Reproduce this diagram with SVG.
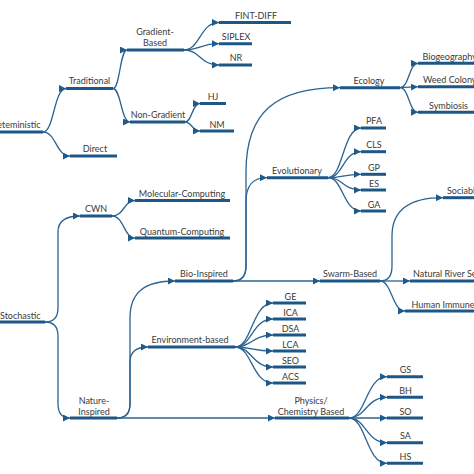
<svg xmlns="http://www.w3.org/2000/svg" width="474" height="474" viewBox="0 0 474 474">
<defs>
<marker id="arr" markerUnits="userSpaceOnUse" markerWidth="8" markerHeight="7" refX="7" refY="3.5" orient="auto">
<path d="M0,0 L7,3.5 L0,7 z" fill="#1f5a8a"/>
</marker>
<style>
.c{fill:none;stroke:#2b6391;stroke-width:1.3;marker-end:url(#arr)}
.s{fill:none;stroke:#2b6391;stroke-width:1.3}
.u{stroke:#1d5788;stroke-width:3;fill:none}
text{font-family:Lato,"Liberation Sans",sans-serif;font-size:9px;fill:#3a3a3a;text-anchor:middle}
.st{text-anchor:start}
.en{text-anchor:end}
</style>
</defs>
<rect width="474" height="474" fill="#ffffff"/>
<g id="connectors">
<path class="c" d="M43,132 C54,132 54,88.5 66,88.5"/>
<path class="c" d="M43,132 C56,132 56,156 70,156"/>
<path class="c" d="M113,88.5 C120,88.5 120,50 127,50"/>
<path class="c" d="M113,88.5 C121,88.5 121,122 130,122"/>
<path class="c" d="M184,50 C200,50 200,22.5 219,22.5"/>
<path class="c" d="M184,50 C200,50 200,43.7 219,43.7"/>
<path class="c" d="M184,50 C200,50 200,65 219,65"/>
<path class="c" d="M185,122 C192,122 192,103.5 200,103.5"/>
<path class="c" d="M185,122 C192,122 192,131 200,131"/>
<path class="c" d="M45,322 Q58,322 58,308 L58,232 Q58,216 80,216"/>
<path class="c" d="M45,322 Q58,322 58,336 L58,404 Q58,418 70,418"/>
<path class="c" d="M112,216 C124,216 124,200.5 135,200.5"/>
<path class="c" d="M112,216 C124,216 124,238 135,238"/>
<path class="c" d="M117,418 Q130,418 130,404 L130,362 Q130,347 148,347"/>
<path class="c" d="M117,418 Q130,418 130,404 L130,318 C130,292 145,281 175,281"/>
<path class="c" d="M117,418 L275,418"/>
<path class="c" d="M233,281 Q246,281 246,266 L246,172 C246,112 276,87.7 340,87.7"/>
<path class="c" d="M233,281 Q246,281 246,266 L246,202 C246,186 252,177.7 267,177.7"/>
<path class="c" d="M233,281 L320,281"/>
<path class="c" d="M400,87.7 C409,87.7 409,63.3 418,63.3"/>
<path class="c" d="M400,87.7 L418,86.7"/>
<path class="c" d="M400,87.7 C409,87.7 409,112.3 418,112.3"/>
<path class="c" d="M328,177.7 C343,177.7 343,128 361,128"/>
<path class="c" d="M328,177.7 C343,177.7 343,151.7 361,151.7"/>
<path class="c" d="M328,177.7 C343,177.7 343,174.3 361,174.3"/>
<path class="c" d="M328,177.7 C343,177.7 343,190 361,190"/>
<path class="c" d="M328,177.7 C343,177.7 343,211 361,211"/>
<path class="c" d="M235,347 C252,347 252,303 273,303"/>
<path class="c" d="M235,347 C252,347 252,319 273,319"/>
<path class="c" d="M235,347 C252,347 252,335 273,335"/>
<path class="c" d="M235,347 C252,347 252,351 273,351"/>
<path class="c" d="M235,347 C252,347 252,367 273,367"/>
<path class="c" d="M235,347 C252,347 252,383 273,383"/>
<path class="c" d="M349,418 C366,418 366,376.7 387,376.7"/>
<path class="c" d="M349,418 C366,418 366,397.3 387,397.3"/>
<path class="c" d="M349,418 L387,418"/>
<path class="c" d="M349,418 C366,418 366,442.7 387,442.7"/>
<path class="c" d="M349,418 C366,418 366,463.3 387,463.3"/>
<path class="c" d="M380,281 Q392,281 392,266 L392,236 C392,210 410,197.7 443,197.7"/>
<path class="c" d="M380,281 L410,281"/>
<path class="c" d="M380,281 C392,281 392,311 405,311"/>
</g>
<g id="n-deteministic"><line class="u" x1="0" y1="132" x2="43" y2="132"/><text class="en" x="40.5" y="128">Deteministic</text></g>
<g id="n-traditional"><line class="u" x1="66" y1="88.5" x2="113" y2="88.5"/><text x="89.5" y="84">Traditional</text></g>
<g id="n-gradient"><line class="u" x1="127" y1="50" x2="184" y2="50"/><text x="155" y="34.5">Gradient-</text><text x="155" y="45.5">Based</text></g>
<g id="n-nongradient"><line class="u" x1="130" y1="122" x2="185" y2="122"/><text x="158" y="118">Non-Gradient</text></g>
<g id="n-fintdiff"><line class="u" x1="219" y1="22.5" x2="291" y2="22.5"/><text x="256" y="18.5">FINT-DIFF</text></g>
<g id="n-siplex"><line class="u" x1="219" y1="43.7" x2="252" y2="43.7"/><text x="236" y="40">SIPLEX</text></g>
<g id="n-nr"><line class="u" x1="219" y1="65" x2="252" y2="65"/><text x="236" y="61">NR</text></g>
<g id="n-hj"><line class="u" x1="200" y1="103.5" x2="226" y2="103.5"/><text x="213" y="100">HJ</text></g>
<g id="n-nm"><line class="u" x1="200" y1="131" x2="234" y2="131"/><text x="217" y="127.5">NM</text></g>
<g id="n-direct"><line class="u" x1="70" y1="156" x2="117" y2="156"/><text x="95" y="152">Direct</text></g>
<g id="n-stochastic"><line class="u" x1="0" y1="322" x2="45" y2="322"/><text class="en" x="40.5" y="318.5">Stochastic</text></g>
<g id="n-cwn"><line class="u" x1="80" y1="216" x2="112" y2="216"/><text x="96" y="212">CWN</text></g>
<g id="n-molecular"><line class="u" x1="135" y1="200.5" x2="230" y2="200.5"/><text x="182" y="197">Molecular-Computing</text></g>
<g id="n-quantum"><line class="u" x1="135" y1="238" x2="230" y2="238"/><text x="182" y="234.5">Quantum-Computing</text></g>
<g id="n-nature"><line class="u" x1="70" y1="418" x2="117" y2="418"/><text x="94" y="404">Nature-</text><text x="94" y="415">Inspired</text></g>
<g id="n-bio"><line class="u" x1="175" y1="281" x2="233" y2="281"/><text x="204" y="277">Bio-Inspired</text></g>
<g id="n-env"><line class="u" x1="148" y1="347" x2="235" y2="347"/><text x="190" y="342.5">Environment-based</text></g>
<g id="n-physics"><line class="u" x1="275" y1="418" x2="349" y2="418"/><text x="311" y="403.5">Physics/</text><text x="311" y="415">Chemistry Based</text></g>
<g id="n-ge"><line class="u" x1="273" y1="303" x2="306" y2="303"/><text x="290.5" y="299.5">GE</text></g>
<g id="n-ica"><line class="u" x1="273" y1="319" x2="306" y2="319"/><text x="290.5" y="315.5">ICA</text></g>
<g id="n-dsa"><line class="u" x1="273" y1="335" x2="306" y2="335"/><text x="290.5" y="331.5">DSA</text></g>
<g id="n-lca"><line class="u" x1="273" y1="351" x2="306" y2="351"/><text x="290.5" y="347.5">LCA</text></g>
<g id="n-seo"><line class="u" x1="273" y1="367" x2="306" y2="367"/><text x="290.5" y="363.5">SEO</text></g>
<g id="n-acs"><line class="u" x1="273" y1="383" x2="306" y2="383"/><text x="290.5" y="379.5">ACS</text></g>
<g id="n-gs"><line class="u" x1="387" y1="376.7" x2="423" y2="376.7"/><text x="405.5" y="373">GS</text></g>
<g id="n-bh"><line class="u" x1="387" y1="397.3" x2="423" y2="397.3"/><text x="405.5" y="393.5">BH</text></g>
<g id="n-so"><line class="u" x1="387" y1="418" x2="423" y2="418"/><text x="405.5" y="414.5">SO</text></g>
<g id="n-sa"><line class="u" x1="387" y1="442.7" x2="423" y2="442.7"/><text x="405.5" y="439">SA</text></g>
<g id="n-hs"><line class="u" x1="387" y1="463.3" x2="423" y2="463.3"/><text x="405.5" y="459.5">HS</text></g>
<g id="n-ecology"><line class="u" x1="340" y1="87.7" x2="400" y2="87.7"/><text x="369" y="84">Ecology</text></g>
<g id="n-biogeo"><line class="u" x1="418" y1="63.3" x2="474" y2="63.3"/><text class="st" x="422.5" y="59.5">Biogeography</text></g>
<g id="n-weed"><line class="u" x1="418" y1="86.7" x2="474" y2="86.7"/><text class="st" x="423" y="83">Weed Colony</text></g>
<g id="n-symbiosis"><line class="u" x1="418" y1="112.3" x2="474" y2="112.3"/><text class="st" x="429" y="108.5">Symbiosis</text></g>
<g id="n-evolutionary"><line class="u" x1="267" y1="177.7" x2="328" y2="177.7"/><text x="297" y="174">Evolutionary</text></g>
<g id="n-pfa"><line class="u" x1="361" y1="128" x2="386" y2="128"/><text x="374" y="124">PFA</text></g>
<g id="n-cls"><line class="u" x1="361" y1="151.7" x2="386" y2="151.7"/><text x="374" y="147.7">CLS</text></g>
<g id="n-gp"><line class="u" x1="361" y1="174.3" x2="386" y2="174.3"/><text x="374" y="171">GP</text></g>
<g id="n-es"><line class="u" x1="361" y1="190" x2="386" y2="190"/><text x="374" y="186.8">ES</text></g>
<g id="n-ga"><line class="u" x1="361" y1="211" x2="386" y2="211"/><text x="374" y="207.5">GA</text></g>
<g id="n-swarm"><line class="u" x1="320" y1="281" x2="380" y2="281"/><text x="350" y="277">Swarm-Based</text></g>
<g id="n-sociable"><line class="u" x1="443" y1="197.7" x2="474" y2="197.7"/><text class="st" x="447" y="194">Sociable</text></g>
<g id="n-river"><line class="u" x1="410" y1="281" x2="474" y2="281"/><text class="st" x="413" y="277">Natural River Search</text></g>
<g id="n-immune"><line class="u" x1="405" y1="311" x2="474" y2="311"/><text class="st" x="411.5" y="307.5">Human Immune System</text></g>
</svg>
